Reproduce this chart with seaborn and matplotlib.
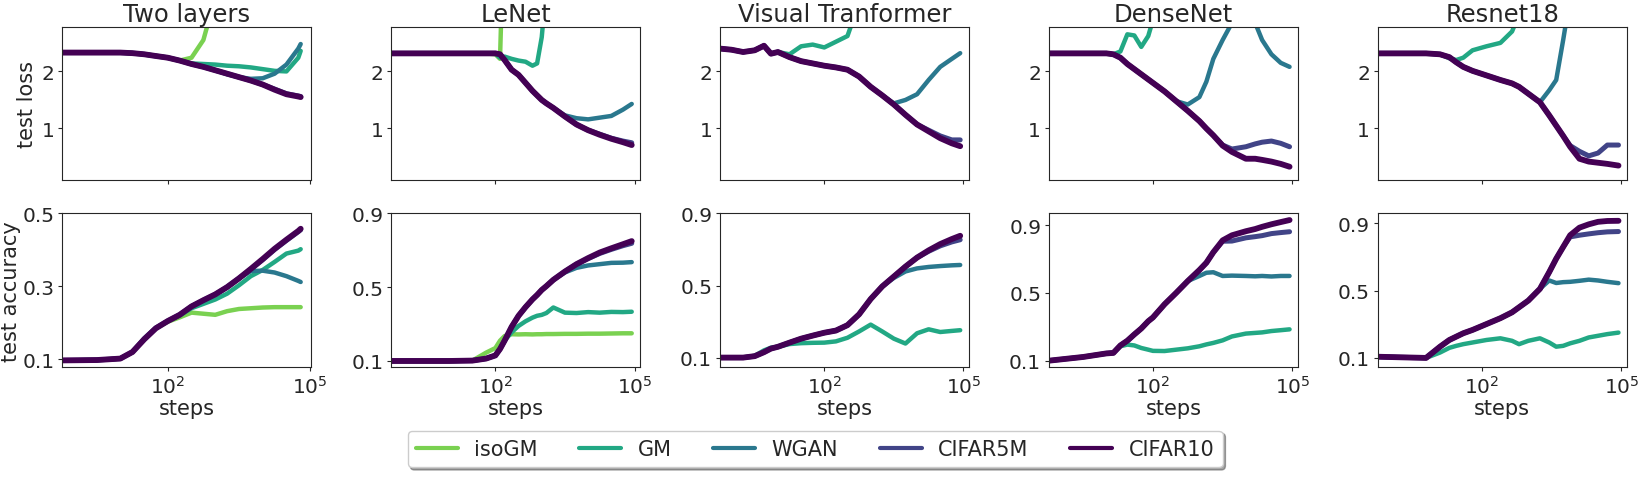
import numpy as np
import pandas as pd
import seaborn as sns
import matplotlib.pyplot as plt
from matplotlib.lines import Line2D
from matplotlib.ticker import NullLocator

DATASETS = ["isoGM", "GM", "WGAN", "CIFAR5M", "CIFAR10"]
COLORS = [plt.cm.viridis(v) for v in (0.8, 0.6, 0.4, 0.2, 0.0)]
WIDTHS = [3.2, 3.2, 3.2, 3.6, 4.2]
TITLES = ["Two layers", "LeNet", "Visual Tranformer", "DenseNet", "Resnet18"]

# ---- Two layers ----
TWO_STEPS = [0.59, 3.2, 10, 18, 32, 56, 100, 178, 316, 562, 1000, 1778, 3162,
             5623, 10000, 17783, 31623, 56234, 63096]
TWO_LOSS = {
    "isoGM": [2.33, 2.33, 2.33, 2.32, 2.30, 2.27, 2.24, 2.19, 2.24, 2.55, 3.3],
    "GM": [2.33, 2.33, 2.33, 2.32, 2.30, 2.27, 2.24, 2.19, 2.14, 2.13, 2.12, 2.10,
           2.09, 2.07, 2.04, 2.01, 2.00, 2.24, 2.36],
    "WGAN": [2.33, 2.33, 2.33, 2.32, 2.30, 2.27, 2.24, 2.19, 2.13, 2.08, 2.02, 1.95,
             1.90, 1.87, 1.88, 1.96, 2.12, 2.40, 2.48],
    "CIFAR5M": [2.33, 2.33, 2.33, 2.32, 2.30, 2.27, 2.24, 2.19, 2.13, 2.08, 2.02, 1.96,
                1.90, 1.84, 1.77, 1.69, 1.61, 1.57, 1.56],
    "CIFAR10": [2.33, 2.33, 2.33, 2.32, 2.30, 2.27, 2.24, 2.19, 2.13, 2.08, 2.02, 1.96,
                1.90, 1.84, 1.77, 1.68, 1.60, 1.56, 1.55],
}
TWO_ACC = {
    "isoGM": [0.097, 0.098, 0.102, 0.12, 0.155, 0.185, 0.203, 0.215, 0.228, 0.225,
              0.222, 0.232, 0.238, 0.24, 0.242, 0.243, 0.243, 0.243, 0.243],
    "GM": [0.097, 0.098, 0.102, 0.12, 0.155, 0.185, 0.205, 0.22, 0.24, 0.252, 0.264,
           0.28, 0.303, 0.328, 0.345, 0.367, 0.39, 0.398, 0.402],
    "WGAN": [0.097, 0.098, 0.102, 0.12, 0.155, 0.185, 0.205, 0.222, 0.245, 0.262,
             0.278, 0.298, 0.322, 0.342, 0.343, 0.338, 0.328, 0.315, 0.312],
    "CIFAR5M": [0.097, 0.098, 0.102, 0.12, 0.157, 0.186, 0.205, 0.222, 0.245, 0.262,
                0.278, 0.298, 0.322, 0.347, 0.373, 0.401, 0.426, 0.45, 0.455],
    "CIFAR10": [0.097, 0.098, 0.102, 0.12, 0.155, 0.185, 0.205, 0.222, 0.245, 0.262,
                0.278, 0.298, 0.322, 0.348, 0.375, 0.403, 0.428, 0.452, 0.458],
}

# ---- LeNet ----
LENET_STEPS = [0.56, 3.2, 10, 32, 63, 100, 126, 158, 224, 316, 447, 631, 794, 1000,
               1259, 1778, 3162, 5623, 10000, 17783, 31623, 56234, 87096]
LENET_LOSS = {
    "isoGM": [2.316, 2.316, 2.316, 2.316, 2.316, 2.30, 2.22, 5.0],
    "GM": [2.316, 2.316, 2.316, 2.316, 2.316, 2.316, 2.24, 2.26, 2.22, 2.19, 2.17,
           2.10, 2.14, 2.60, 3.50],
    "WGAN": [2.316, 2.316, 2.316, 2.316, 2.316, 2.316, 2.30, 2.20, 2.03, 1.94, 1.80,
             1.66, 1.58, 1.50, 1.44, 1.36, 1.23, 1.18, 1.16, 1.19, 1.22, 1.33, 1.43],
    "CIFAR5M": [2.316, 2.316, 2.316, 2.316, 2.316, 2.316, 2.30, 2.20, 2.03, 1.94, 1.80,
                1.66, 1.58, 1.50, 1.44, 1.36, 1.21, 1.07, 0.97, 0.90, 0.83, 0.78, 0.75],
    "CIFAR10": [2.316, 2.316, 2.316, 2.316, 2.316, 2.316, 2.30, 2.20, 2.03, 1.94, 1.80,
                1.66, 1.58, 1.50, 1.44, 1.36, 1.21, 1.07, 0.97, 0.89, 0.82, 0.76, 0.71],
}
LENET_ACC = {
    "isoGM": [0.1, 0.1, 0.1, 0.102, 0.145, 0.17, 0.21, 0.235, 0.245, 0.244, 0.245,
              0.244, 0.245, 0.245, 0.246, 0.246, 0.247, 0.247, 0.248, 0.248, 0.249,
              0.25, 0.25],
    "GM": [0.1, 0.1, 0.1, 0.102, 0.113, 0.13, 0.165, 0.21, 0.255, 0.29, 0.315, 0.335,
           0.345, 0.35, 0.36, 0.39, 0.362, 0.36, 0.365, 0.362, 0.366, 0.365, 0.367],
    "WGAN": [0.1, 0.1, 0.1, 0.102, 0.113, 0.13, 0.165, 0.21, 0.285, 0.345, 0.392,
             0.434, 0.458, 0.485, 0.506, 0.54, 0.58, 0.605, 0.618, 0.625, 0.632,
             0.633, 0.636],
    "CIFAR5M": [0.1, 0.1, 0.1, 0.102, 0.113, 0.13, 0.165, 0.21, 0.285, 0.345, 0.392,
                0.434, 0.458, 0.485, 0.506, 0.54, 0.585, 0.625, 0.655, 0.683, 0.705,
                0.725, 0.738],
    "CIFAR10": [0.1, 0.1, 0.1, 0.102, 0.113, 0.13, 0.165, 0.21, 0.285, 0.345, 0.392,
                0.434, 0.458, 0.485, 0.506, 0.54, 0.585, 0.625, 0.658, 0.688, 0.711,
                0.733, 0.75],
}

# ---- Visual Tranformer ----
VIT_STEPS = [0.56, 1, 1.78, 3.16, 5.01, 7.08, 10, 17.8, 31.6, 56.2, 100, 178, 316,
             562, 1000, 1778, 3162, 5623, 10000, 17783, 31623, 56234, 85114]
VIT_LOSS = {
    "GM": [2.40, 2.38, 2.34, 2.37, 2.45, 2.31, 2.34, 2.30, 2.44, 2.47, 2.42, 2.52,
           2.62, 3.2],
    "WGAN": [2.40, 2.38, 2.34, 2.37, 2.45, 2.31, 2.34, 2.25, 2.18, 2.14, 2.10, 2.07,
             2.03, 1.91, 1.73, 1.58, 1.44, 1.50, 1.60, 1.85, 2.08, 2.22, 2.32],
    "CIFAR5M": [2.40, 2.38, 2.34, 2.37, 2.45, 2.31, 2.34, 2.25, 2.18, 2.14, 2.10, 2.07,
                2.03, 1.91, 1.73, 1.58, 1.42, 1.24, 1.07, 0.97, 0.87, 0.80, 0.80],
    "CIFAR10": [2.40, 2.38, 2.34, 2.37, 2.45, 2.31, 2.34, 2.25, 2.18, 2.14, 2.10, 2.07,
                2.03, 1.91, 1.73, 1.58, 1.42, 1.24, 1.07, 0.95, 0.83, 0.74, 0.69],
}
VIT_ACC = {
    "GM": [0.1, 0.1, 0.1, 0.11, 0.14, 0.155, 0.16, 0.175, 0.18, 0.182, 0.183, 0.19,
           0.21, 0.245, 0.283, 0.245, 0.205, 0.178, 0.235, 0.257, 0.242, 0.248, 0.252],
    "WGAN": [0.1, 0.1, 0.1, 0.108, 0.13, 0.15, 0.16, 0.183, 0.205, 0.222, 0.238, 0.25,
             0.28, 0.34, 0.425, 0.495, 0.542, 0.578, 0.595, 0.603, 0.608, 0.612, 0.614],
    "CIFAR5M": [0.1, 0.1, 0.1, 0.108, 0.13, 0.15, 0.16, 0.183, 0.205, 0.222, 0.238,
                0.25, 0.28, 0.34, 0.425, 0.495, 0.55, 0.605, 0.655, 0.69, 0.72, 0.742,
                0.754],
    "CIFAR10": [0.1, 0.1, 0.1, 0.108, 0.13, 0.15, 0.16, 0.183, 0.205, 0.222, 0.238,
                0.25, 0.28, 0.34, 0.425, 0.495, 0.55, 0.605, 0.655, 0.695, 0.73, 0.758,
                0.776],
}

# ---- DenseNet ----
DENSE_STEPS = [0.575, 3.16, 10, 14.1, 20, 28.2, 39.8, 56.2, 79.4, 100, 178, 316, 562,
               1000, 1413, 1995, 3162, 5012, 10000, 15849, 22387, 35481, 56234, 87096]
DENSE_LOSS = {
    "GM": [2.316, 2.316, 2.316, 2.30, 2.35, 2.65, 2.63, 2.43, 2.62, 2.9],
    "WGAN": [2.316, 2.316, 2.316, 2.30, 2.24, 2.13, 2.04, 1.95, 1.86, 1.80, 1.65, 1.48,
             1.42, 1.55, 1.82, 2.22, 2.55, 2.85, 3.1, 2.85, 2.55, 2.30, 2.15, 2.08],
    "CIFAR5M": [2.316, 2.316, 2.316, 2.30, 2.24, 2.13, 2.04, 1.95, 1.86, 1.80, 1.65,
                1.48, 1.31, 1.13, 1.00, 0.88, 0.71, 0.64, 0.68, 0.73, 0.76, 0.78, 0.74,
                0.68],
    "CIFAR10": [2.316, 2.316, 2.316, 2.30, 2.24, 2.13, 2.04, 1.95, 1.86, 1.80, 1.65,
                1.48, 1.31, 1.13, 1.00, 0.88, 0.70, 0.59, 0.47, 0.47, 0.45, 0.42, 0.38,
                0.33],
}
DENSE_ACC = {
    "GM": [0.1, 0.122, 0.143, 0.146, 0.185, 0.195, 0.19, 0.175, 0.165, 0.158, 0.157,
           0.165, 0.173, 0.185, 0.196, 0.205, 0.22, 0.243, 0.26, 0.264, 0.267, 0.275,
           0.28, 0.285],
    "WGAN": [0.1, 0.122, 0.143, 0.146, 0.19, 0.218, 0.255, 0.29, 0.333, 0.355, 0.433,
             0.5, 0.57, 0.6, 0.619, 0.622, 0.6, 0.602, 0.6, 0.598, 0.6, 0.597, 0.6, 0.6],
    "CIFAR5M": [0.1, 0.122, 0.143, 0.146, 0.19, 0.218, 0.255, 0.29, 0.333, 0.355, 0.433,
                0.5, 0.57, 0.635, 0.678, 0.74, 0.805, 0.806, 0.825, 0.832, 0.838, 0.85,
                0.856, 0.861],
    "CIFAR10": [0.1, 0.122, 0.143, 0.146, 0.19, 0.218, 0.255, 0.29, 0.333, 0.355, 0.433,
                0.5, 0.57, 0.635, 0.678, 0.74, 0.81, 0.84, 0.864, 0.877, 0.89, 0.905,
                0.918, 0.93],
}

# ---- Resnet18 ----
RES_STEPS = [0.575, 3.16, 6.31, 12.6, 20, 28.2, 39.8, 63.1, 126, 251, 447, 631, 1000,
             1778, 2818, 3981, 5623, 7943, 12589, 19953, 31623, 50119, 87096]
RES_LOSS = {
    "GM": [2.316, 2.316, 2.316, 2.30, 2.23, 2.20, 2.24, 2.37, 2.44, 2.50, 2.70, 3.0],
    "WGAN": [2.316, 2.316, 2.316, 2.30, 2.25, 2.16, 2.08, 2.01, 1.93, 1.85, 1.79, 1.73,
             1.61, 1.46, 1.67, 1.85, 2.55, 3.3],
    "CIFAR5M": [2.316, 2.316, 2.316, 2.30, 2.25, 2.16, 2.08, 2.01, 1.93, 1.85, 1.79,
                1.73, 1.61, 1.46, 1.23, 1.05, 0.87, 0.70, 0.60, 0.52, 0.57, 0.71, 0.71],
    "CIFAR10": [2.316, 2.316, 2.316, 2.30, 2.25, 2.16, 2.08, 2.01, 1.93, 1.85, 1.79,
                1.73, 1.61, 1.46, 1.23, 1.05, 0.87, 0.68, 0.47, 0.42, 0.40, 0.38, 0.35],
}
RES_ACC = {
    "GM": [0.105, 0.1, 0.098, 0.13, 0.158, 0.17, 0.18, 0.19, 0.205, 0.215, 0.2, 0.18,
           0.2, 0.215, 0.19, 0.165, 0.17, 0.185, 0.2, 0.22, 0.23, 0.24, 0.249],
    "WGAN": [0.105, 0.1, 0.098, 0.165, 0.205, 0.225, 0.245, 0.265, 0.3, 0.335, 0.37,
             0.4, 0.44, 0.51, 0.56, 0.545, 0.55, 0.552, 0.558, 0.565, 0.56, 0.552,
             0.544],
    "CIFAR5M": [0.105, 0.1, 0.098, 0.165, 0.205, 0.225, 0.245, 0.265, 0.3, 0.335, 0.37,
                0.4, 0.44, 0.51, 0.61, 0.69, 0.76, 0.82, 0.83, 0.838, 0.845, 0.85,
                0.852],
    "CIFAR10": [0.105, 0.1, 0.098, 0.165, 0.205, 0.225, 0.245, 0.265, 0.3, 0.335, 0.37,
                0.4, 0.44, 0.51, 0.61, 0.69, 0.76, 0.83, 0.875, 0.895, 0.91, 0.915,
                0.916],
}

PANELS = [
    (TWO_STEPS, TWO_LOSS, TWO_ACC, (0.079, 0.5), [0.1, 0.3, 0.5], (0.59, 1.05e5)),
    (LENET_STEPS, LENET_LOSS, LENET_ACC, (0.0675, 0.9), [0.1, 0.5, 0.9], (0.56, 1.32e5)),
    (VIT_STEPS, VIT_LOSS, VIT_ACC, (0.048, 0.9), [0.1, 0.5, 0.9], (0.56, 1.32e5)),
    (DENSE_STEPS, DENSE_LOSS, DENSE_ACC, (0.063, 0.969), [0.1, 0.5, 0.9], (0.575, 1.32e5)),
    (RES_STEPS, RES_LOSS, RES_ACC, (0.044, 0.96), [0.1, 0.5, 0.9], (0.575, 1.32e5)),
]


def to_frame(steps, series):
    rows = []
    for name in DATASETS:
        if name not in series:
            continue
        for s, v in zip(steps, series[name]):
            rows.append({"step": s, "value": v, "dataset": name})
    return pd.DataFrame(rows)


sns.set_style("ticks")
plt.rcParams["font.family"] = ["DejaVu Sans"]
palette = dict(zip(DATASETS, COLORS))
widths = dict(zip(DATASETS, WIDTHS))

fig, axes = plt.subplots(2, 5, figsize=(16.4, 4.81), dpi=100)
fig.subplots_adjust(left=0.0378, right=0.992, top=0.942, bottom=0.235,
                    wspace=0.32, hspace=0.215)

for col, (steps, loss, acc, acc_lim, acc_ticks, xlim) in enumerate(PANELS):
    for row, series in enumerate([loss, acc]):
        ax = axes[row, col]
        df = to_frame(steps, series)
        order = [d for d in DATASETS if d in series]
        sns.lineplot(data=df, x="step", y="value", hue="dataset", hue_order=order,
                     size="dataset", size_order=order, sizes=widths,
                     palette=palette, legend=False, ax=ax)
        ax.set_xscale("log")
        ax.set_xlim(*xlim)
        ax.set_xticks([1e2, 1e5])
        ax.xaxis.set_minor_locator(NullLocator())
        ax.set_xlabel("")
        ax.set_ylabel("")
        ax.tick_params(labelsize=14.5, length=3, pad=2.5)
        if row == 0:
            ax.set_ylim(0.09, 2.78)
            ax.set_yticks([1, 2])
            ax.set_yticklabels(["1", "2"])
            ax.set_xticklabels([])
            ax.set_title(TITLES[col], fontsize=17.5, pad=4)
        else:
            ax.set_ylim(*acc_lim)
            ax.set_yticks(acc_ticks)
            ax.set_yticklabels([f"{t:.1f}" for t in acc_ticks])
            ax.set_xlabel("steps", fontsize=15, labelpad=1)

axes[0, 0].set_ylabel("test loss", fontsize=15, labelpad=3)
axes[1, 0].set_ylabel("test accuracy", fontsize=15, labelpad=1)

handles = [Line2D([], [], color=c, lw=3) for c in COLORS]
fig.legend(handles, DATASETS, loc="lower center", bbox_to_anchor=(0.497, 0.005),
           ncol=5, fontsize=15, shadow=True, fancybox=True, frameon=True)

fig.savefig("out.png", dpi=100)
